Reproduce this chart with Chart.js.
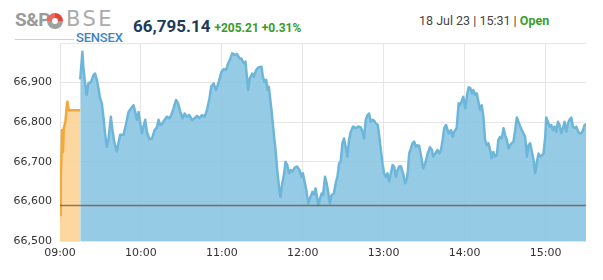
<!DOCTYPE html>
<html>
<head>
<meta charset="utf-8">
<script src="https://cdn.jsdelivr.net/npm/chart.js@4/dist/chart.umd.min.js"></script>
<style>
  html, body { margin: 0; padding: 0; background: #fff; }
  body { width: 603px; height: 280px; position: relative; overflow: hidden; font-family: Roboto, sans-serif; }
  #chart { position: absolute; left: 0; top: 0; }
  .logo-sp { position: absolute; left: 15px; top: 10px; font: bold 19px/1 Roboto, sans-serif; color: #9a9a9a; letter-spacing: -0.5px; }
  .logo-bse { position: absolute; left: 66px; top: 9px; font: 21px/1 "DejaVu Sans", sans-serif; color: #ababab; letter-spacing: 2.5px; }
  .logo-ring { position: absolute; left: 46px; top: 12px; }
  .logo-line { position: absolute; left: 15px; top: 39px; width: 59px; height: 1px; background: #d0d0d0; }
  .logo-sensex { position: absolute; left: 76px; top: 31px; font: 500 13px/1 Roboto, sans-serif; color: #3c85c6; letter-spacing: -0.2px; }
  .quote { position: absolute; left: 133px; top: 18px; display: flex; align-items: baseline; line-height: 1; }
  .quote .last { font: bold 17px/1 Roboto, sans-serif; color: #1d3c5c; }
  .quote .chg { font: bold 12px/1 Roboto, sans-serif; color: #3a9a2a; margin-left: 4px; }
  .stamp { position: absolute; left: 419px; top: 15px; font: 12.5px/1 Roboto, sans-serif; color: #444; }
  .stamp b { color: #3a9f2a; }
</style>
</head>
<body>
<div class="logo-sp">S&amp;P</div>
<svg class="logo-ring" width="18" height="18" viewBox="0 0 18 18">
  <path d="M9 1 A8 8 0 0 1 17 9 L12 9 A3 3 0 0 0 9 6 Z" fill="#e0443a"/>
  <path d="M1 9 A8 8 0 0 1 9 1 L9 6 A3 3 0 0 0 6 9 Z" fill="#e86a5e"/>
  <path d="M17 9 A8 8 0 0 1 1 9 L6 9 A3 3 0 0 0 12 9 Z" fill="#a0a0a0"/>
</svg>
<div class="logo-bse">BSE</div>
<div class="logo-line"></div>
<div class="logo-sensex">SENSEX</div>
<div class="quote"><span class="last">66,795.14</span><span class="chg">+205.21 +0.31%</span></div>
<div class="stamp">18 Jul 23 | 15:31 | <b>Open</b></div>

<canvas id="chart" width="603" height="280"></canvas>

<script>
// minutes since 09:00
const hourTicks = [0, 60, 120, 180, 240, 300, 360];
const hourLabels = ['09:00', '10:00', '11:00', '12:00', '13:00', '14:00', '15:00'];
const yTicks = [66500, 66600, 66700, 66800, 66900, 67000];
const prevClose = 66589.93;

// pre-open session (09:00 - 09:15)
const preTimes = [0, 0.5, 1.0, 1.5, 2.2, 2.8, 4.0, 5.0, 5.5, 6.5, 15];
const preValues = [66565, 66660, 66700, 66780, 66725, 66785, 66800, 66840, 66852, 66830, 66830];

// normal session (09:15 - 15:30)
const liveTimes = [
  15.0, 16.6, 17.3, 18.6, 19.8, 21.0, 23.0, 24.8, 26.0, 27.3, 28.5, 29.7, 31.0, 32.2, 33.4, 34.7, 35.9, 37.7, 38.9, 40.4,
  42.1, 43.3, 44.6, 47.1, 48.8, 50.8, 52.8, 54.5, 55.7, 57.0, 58.2, 59.5, 60.7, 61.9, 63.2, 64.4, 66.2, 68.2, 70.1, 71.9,
  73.1, 74.3, 76.0, 77.5, 79.3, 81.0, 82.5, 84.2, 86.0, 87.5, 89.2, 90.9, 92.4, 94.2, 95.9, 97.9, 99.8, 101.6, 103.3, 105.3,
  107.3, 109.0, 110.8, 112.2, 113.9, 115.7, 117.7, 119.7, 121.4, 123.2, 124.7, 126.4, 127.6, 129.3, 131.3, 133.1, 134.5, 136.2, 137.5, 138.8,
  139.5, 140.7, 142.5, 143.7, 145.5, 147.4, 149.4, 150.4, 151.6, 152.9, 153.9, 154.8, 156.8, 158.5, 159.8, 161.3, 162.8, 163.5, 164.8, 166.0,
  167.2, 168.5, 169.7, 171.0, 172.2, 174.2, 175.9, 177.6, 179.1, 180.1, 181.6, 182.6, 184.1, 185.8, 187.1, 188.3, 189.5, 191.5, 192.5, 194.0,
  195.0, 196.5, 197.7, 199.0, 200.0, 201.4, 203.1, 204.4, 205.7, 206.9, 208.1, 209.4, 210.6, 211.8, 213.1, 214.3, 215.6, 217.3, 219.3, 221.3,
  223.0, 224.3, 225.4, 226.7, 228.0, 229.2, 230.4, 231.7, 232.9, 234.1, 235.6, 236.6, 237.9, 239.1, 240.3, 241.6, 242.8, 244.0, 245.3, 246.6,
  247.7, 249.0, 250.3, 251.5, 252.7, 254.4, 255.9, 257.0, 257.9, 258.9, 260.2, 261.4, 262.6, 263.9, 265.1, 266.3, 267.6, 269.3, 270.8, 272.6,
  274.3, 275.8, 276.7, 278.2, 280.0, 281.2, 282.5, 283.7, 284.9, 286.2, 288.2, 289.9, 291.1, 292.3, 294.1, 295.6, 296.6, 298.1, 299.0, 300.5,
  301.8, 303.0, 304.2, 305.5, 306.5, 307.7, 309.0, 310.2, 311.4, 312.7, 313.9, 315.2, 316.4, 317.6, 318.9, 320.1, 321.3, 322.6, 323.9, 325.0,
  326.3, 327.6, 328.8, 330.0, 331.3, 332.5, 333.7, 335.0, 336.2, 337.5, 338.7, 339.9, 341.2, 342.4, 343.6, 344.9, 346.2, 347.4, 348.6, 349.9,
  351.1, 352.3, 353.6, 354.8, 356.0, 357.3, 358.5, 359.8, 360.5, 361.8, 363.0, 364.2, 365.5, 366.7, 367.9, 369.2, 370.4, 371.7, 372.9, 374.1,
  375.4, 376.6, 377.8, 379.1, 380.3, 381.5, 382.8, 384.1, 385.3, 386.5, 387.8, 389.0, 390.0
];
const liveValues = [
  66908, 66978, 66940, 66898, 66869, 66898, 66902, 66919, 66923, 66907, 66886, 66860, 66848, 66814, 66772, 66738, 66755, 66814, 66780, 66747,
  66726, 66747, 66768, 66768, 66793, 66826, 66835, 66843, 66826, 66806, 66826, 66797, 66772, 66789, 66806, 66776, 66757, 66759, 66780, 66787,
  66806, 66793, 66797, 66806, 66814, 66810, 66818, 66835, 66856, 66848, 66826, 66810, 66822, 66814, 66818, 66806, 66810, 66816, 66810, 66818,
  66814, 66831, 66860, 66890, 66898, 66881, 66902, 66927, 66934, 66932, 66949, 66961, 66974, 66970, 66972, 66961, 66961, 66949, 66953, 66907,
  66881, 66911, 66923, 66915, 66932, 66939, 66940, 66915, 66902, 66907, 66881, 66890, 66831, 66772, 66730, 66671, 66624, 66612, 66646, 66667,
  66700, 66692, 66671, 66679, 66675, 66686, 66688, 66679, 66662, 66671, 66646, 66629, 66595, 66612, 66624, 66618, 66633, 66591, 66604, 66620,
  66616, 66662, 66646, 66620, 66595, 66616, 66620, 66646, 66662, 66696, 66700, 66747, 66759, 66738, 66713, 66755, 66776, 66789, 66785, 66789,
  66787, 66776, 66759, 66806, 66818, 66822, 66801, 66806, 66804, 66797, 66793, 66768, 66730, 66696, 66671, 66662, 66671, 66650, 66671, 66692,
  66688, 66662, 66679, 66688, 66689, 66671, 66646, 66654, 66675, 66721, 66734, 66747, 66751, 66738, 66742, 66740, 66717, 66683, 66696, 66721,
  66737, 66730, 66713, 66721, 66730, 66721, 66730, 66755, 66785, 66793, 66772, 66780, 66763, 66776, 66785, 66848, 66843, 66856, 66864, 66835,
  66869, 66888, 66886, 66873, 66881, 66869, 66873, 66852, 66831, 66843, 66814, 66755, 66742, 66747, 66730, 66709, 66725, 66713, 66717, 66755,
  66763, 66759, 66785, 66768, 66755, 66734, 66742, 66747, 66751, 66780, 66812, 66801, 66789, 66780, 66772, 66763, 66713, 66742, 66747, 66725,
  66705, 66671, 66700, 66721, 66713, 66717, 66721, 66763, 66812, 66801, 66789, 66793, 66780, 66789, 66776, 66801, 66793, 66772, 66785, 66801,
  66776, 66797, 66806, 66812, 66789, 66785, 66789, 66776, 66772, 66772, 66780, 66793, 66795.14
];

const toPoints = (xs, ys) => xs.map((x, i) => ({ x, y: ys[i] }));

const data = {
  datasets: [
    {
      label: 'Prev close',
      data: [{ x: 0, y: prevClose }, { x: 390, y: prevClose }],
      borderColor: 'rgba(110,55,35,0.65)',
      borderWidth: 1.5,
      fill: false,
      order: 0,
    },
    {
      label: 'Pre-open',
      data: toPoints(preTimes, preValues),
      borderColor: '#f2a83a',
      backgroundColor: 'rgba(252,212,150,0.9)',
      borderWidth: 2.5,
      fill: 'start',
      order: 1,
    },
    {
      label: 'SENSEX',
      data: toPoints(liveTimes, liveValues),
      borderColor: '#6db6da',
      backgroundColor: 'rgba(134,196,224,0.88)',
      borderWidth: 2.5,
      fill: 'start',
      order: 2,
    },
  ],
};

const axisFont = { family: '"DejaVu Sans", Verdana, sans-serif', size: 11 };

const config = {
  type: 'line',
  data,
  options: {
    responsive: false,
    animation: false,
    devicePixelRatio: 1,
    elements: {
      point: { radius: 0 },
      line: { tension: 0, borderJoinStyle: 'round' },
    },
    layout: { padding: { left: 0, right: 17, top: 43, bottom: 0 } },
    plugins: {
      legend: { display: false },
      tooltip: { enabled: false },
    },
    scales: {
      x: {
        type: 'linear',
        min: 0,
        max: 390,
        afterBuildTicks: (scale) => { scale.ticks = hourTicks.map((v) => ({ value: v })); },
        afterFit: (scale) => { scale.height = 39; },
        grid: { color: '#e6e6e6', lineWidth: 1, drawTicks: false },
        border: { display: false },
        ticks: {
          padding: 6,
          color: '#333',
          font: axisFont,
          maxRotation: 0,
          callback: (v) => hourLabels[hourTicks.indexOf(v)],
        },
      },
      y: {
        min: 66500,
        max: 67000,
        afterBuildTicks: (scale) => { scale.ticks = yTicks.map((v) => ({ value: v })); },
        afterFit: (scale) => { scale.width = 60; },
        grid: { color: '#e6e6e6', lineWidth: 1, drawTicks: false },
        border: { display: false },
        ticks: {
          padding: 8,
          color: '#333',
          font: axisFont,
          callback: (v) => (v >= 67000 ? '' : v.toLocaleString('en-US')),
        },
      },
    },
  },
};

new Chart(document.getElementById('chart'), config);
</script>
</body>
</html>
